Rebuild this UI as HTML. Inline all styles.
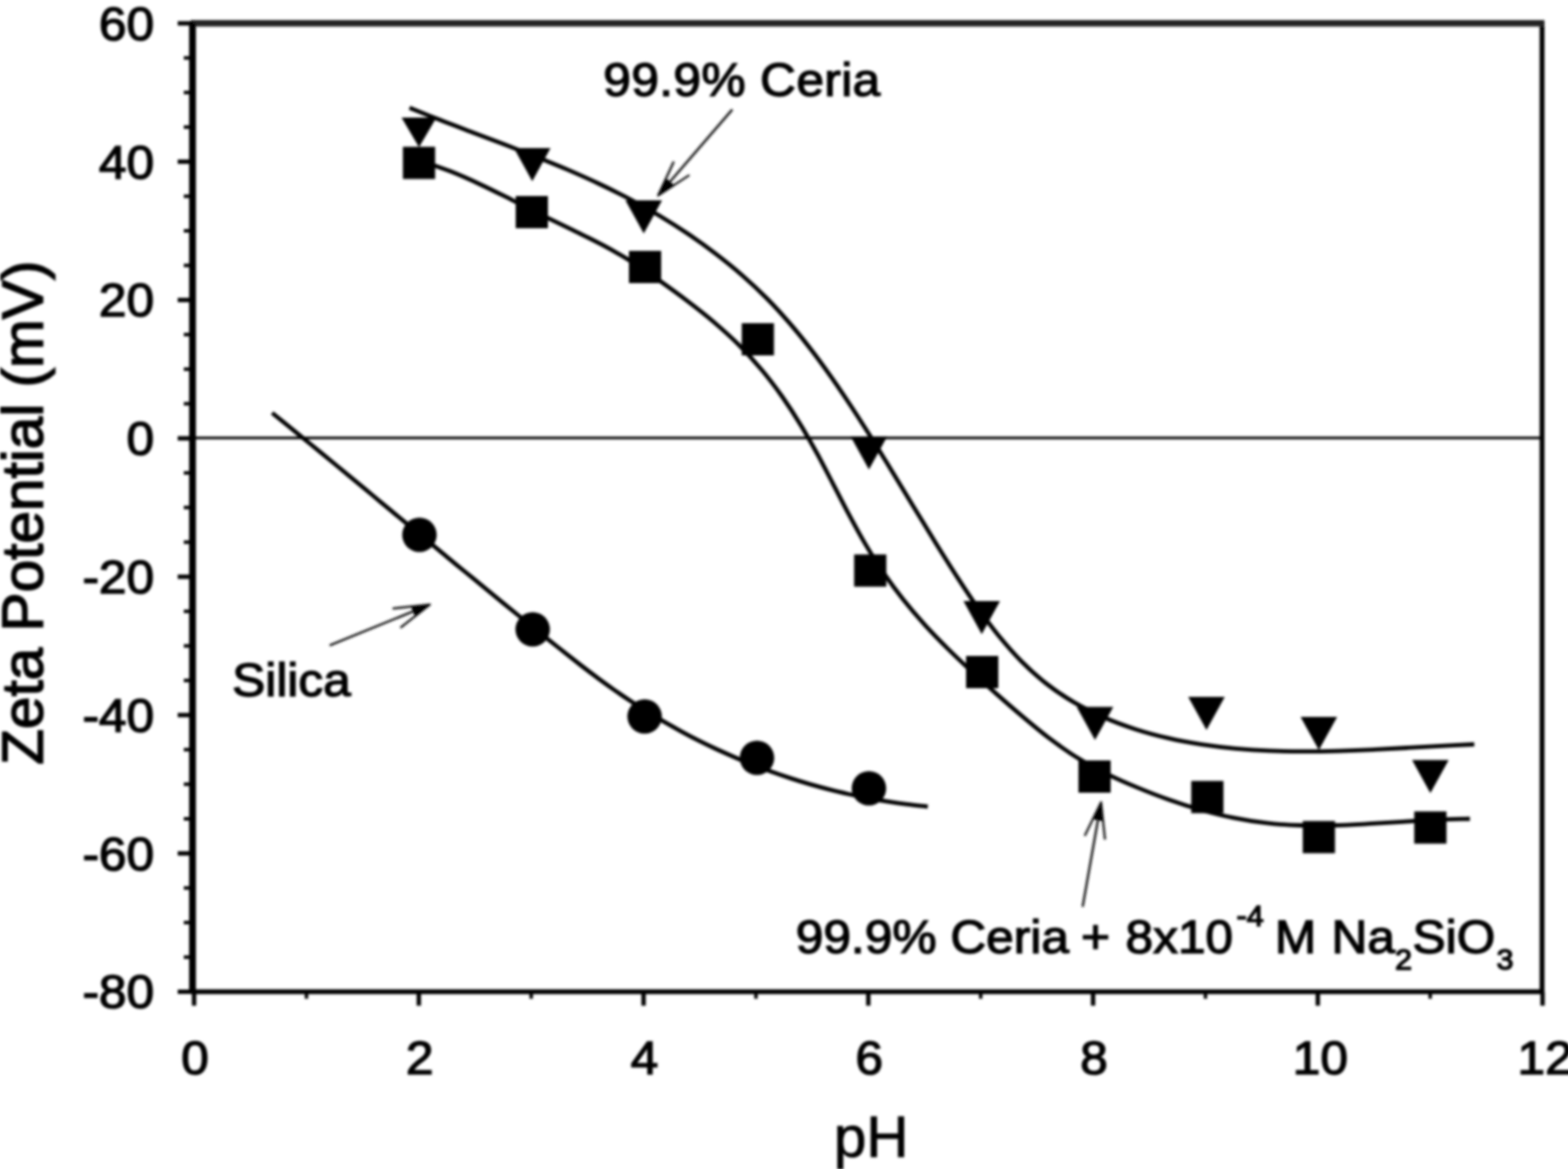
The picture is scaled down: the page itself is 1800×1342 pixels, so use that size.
<!DOCTYPE html>
<html lang="en"><head><meta charset="utf-8"><title>Zeta Potential vs pH</title>
<style>
html,body{margin:0;padding:0;background:#fff;}
body{width:1800px;height:1342px;overflow:hidden;}
svg{display:block;font-family:"Liberation Sans",Arial,Helvetica,sans-serif;}
text{fill:#000;stroke:#000;stroke-width:1.6px;}
</style></head><body>
<svg width="1800" height="1342" viewBox="0 0 1800 1342">
<defs><filter id="b" x="-5%" y="-5%" width="110%" height="110%"><feGaussianBlur stdDeviation="1.7"/></filter></defs>
<rect x="0" y="0" width="1800" height="1342" fill="#fff"/>
<g filter="url(#b)">
<g fill="none" stroke="#050505" stroke-linecap="butt">
<path d="M222.0 26.8 H1770.2 V1138.5 H222.0 Z" stroke-width="5.6" stroke-linejoin="miter"/>
<line x1="219.0" y1="26.8" x2="1772.8" y2="26.8" stroke-width="7.5" stroke="#222"/>
<line x1="220.8" y1="26.8" x2="220.8" y2="1140.5" stroke-width="7.4"/>
<line x1="222.0" y1="502.7" x2="1770.2" y2="502.7" stroke-width="3"/>
<line x1="204.0" y1="1138.5" x2="222.0" y2="1138.5" stroke-width="5"/>
<line x1="211.0" y1="1098.8" x2="222.0" y2="1098.8" stroke-width="4"/>
<line x1="211.0" y1="1059.1" x2="222.0" y2="1059.1" stroke-width="4"/>
<line x1="211.0" y1="1019.4" x2="222.0" y2="1019.4" stroke-width="4"/>
<line x1="204.0" y1="979.7" x2="222.0" y2="979.7" stroke-width="5"/>
<line x1="211.0" y1="940.0" x2="222.0" y2="940.0" stroke-width="4"/>
<line x1="211.0" y1="900.3" x2="222.0" y2="900.3" stroke-width="4"/>
<line x1="211.0" y1="860.6" x2="222.0" y2="860.6" stroke-width="4"/>
<line x1="204.0" y1="820.9" x2="222.0" y2="820.9" stroke-width="5"/>
<line x1="211.0" y1="781.2" x2="222.0" y2="781.2" stroke-width="4"/>
<line x1="211.0" y1="741.5" x2="222.0" y2="741.5" stroke-width="4"/>
<line x1="211.0" y1="701.8" x2="222.0" y2="701.8" stroke-width="4"/>
<line x1="204.0" y1="662.1" x2="222.0" y2="662.1" stroke-width="5"/>
<line x1="211.0" y1="622.4" x2="222.0" y2="622.4" stroke-width="4"/>
<line x1="211.0" y1="582.6" x2="222.0" y2="582.6" stroke-width="4"/>
<line x1="211.0" y1="542.9" x2="222.0" y2="542.9" stroke-width="4"/>
<line x1="204.0" y1="503.2" x2="222.0" y2="503.2" stroke-width="5"/>
<line x1="211.0" y1="463.5" x2="222.0" y2="463.5" stroke-width="4"/>
<line x1="211.0" y1="423.8" x2="222.0" y2="423.8" stroke-width="4"/>
<line x1="211.0" y1="384.1" x2="222.0" y2="384.1" stroke-width="4"/>
<line x1="204.0" y1="344.4" x2="222.0" y2="344.4" stroke-width="5"/>
<line x1="211.0" y1="304.7" x2="222.0" y2="304.7" stroke-width="4"/>
<line x1="211.0" y1="265.0" x2="222.0" y2="265.0" stroke-width="4"/>
<line x1="211.0" y1="225.3" x2="222.0" y2="225.3" stroke-width="4"/>
<line x1="204.0" y1="185.6" x2="222.0" y2="185.6" stroke-width="5"/>
<line x1="211.0" y1="145.9" x2="222.0" y2="145.9" stroke-width="4"/>
<line x1="211.0" y1="106.2" x2="222.0" y2="106.2" stroke-width="4"/>
<line x1="211.0" y1="66.5" x2="222.0" y2="66.5" stroke-width="4"/>
<line x1="204.0" y1="26.8" x2="222.0" y2="26.8" stroke-width="5"/>
<line x1="222.8" y1="1138.5" x2="222.8" y2="1154.5" stroke-width="5"/>
<line x1="351.8" y1="1138.5" x2="351.8" y2="1146.5" stroke-width="4"/>
<line x1="480.8" y1="1138.5" x2="480.8" y2="1154.5" stroke-width="5"/>
<line x1="609.8" y1="1138.5" x2="609.8" y2="1146.5" stroke-width="4"/>
<line x1="738.8" y1="1138.5" x2="738.8" y2="1154.5" stroke-width="5"/>
<line x1="867.8" y1="1138.5" x2="867.8" y2="1146.5" stroke-width="4"/>
<line x1="996.8" y1="1138.5" x2="996.8" y2="1154.5" stroke-width="5"/>
<line x1="1125.8" y1="1138.5" x2="1125.8" y2="1146.5" stroke-width="4"/>
<line x1="1254.8" y1="1138.5" x2="1254.8" y2="1154.5" stroke-width="5"/>
<line x1="1383.8" y1="1138.5" x2="1383.8" y2="1146.5" stroke-width="4"/>
<line x1="1512.8" y1="1138.5" x2="1512.8" y2="1154.5" stroke-width="5"/>
<line x1="1641.8" y1="1138.5" x2="1641.8" y2="1146.5" stroke-width="4"/>
<line x1="1770.8" y1="1138.5" x2="1770.8" y2="1154.5" stroke-width="5"/>
</g>
<g font-size="57" text-anchor="end" style="stroke-width:2px">
<text x="177" y="1157.5" transform="matrix(1 0 0 0.955 0 52.09)">-80</text>
<text x="177" y="998.7" transform="matrix(1 0 0 0.955 0 44.94)">-60</text>
<text x="177" y="839.9" transform="matrix(1 0 0 0.955 0 37.79)">-40</text>
<text x="177" y="681.1" transform="matrix(1 0 0 0.955 0 30.65)">-20</text>
<text x="177" y="522.2" transform="matrix(1 0 0 0.955 0 23.50)">0</text>
<text x="177" y="363.4" transform="matrix(1 0 0 0.955 0 16.35)">20</text>
<text x="177" y="204.6" transform="matrix(1 0 0 0.955 0 9.21)">40</text>
<text x="177" y="45.8" transform="matrix(1 0 0 0.955 0 2.06)">60</text>
</g>
<g font-size="57" text-anchor="middle">
<text x="223.8" y="1233.5" transform="matrix(1 0 0 0.955 0 55.51)">0</text>
<text x="481.8" y="1233.5" transform="matrix(1 0 0 0.955 0 55.51)">2</text>
<text x="739.8" y="1233.5" transform="matrix(1 0 0 0.955 0 55.51)">4</text>
<text x="997.8" y="1233.5" transform="matrix(1 0 0 0.955 0 55.51)">6</text>
<text x="1255.8" y="1233.5" transform="matrix(1 0 0 0.955 0 55.51)">8</text>
<text x="1515.8" y="1233.5" transform="matrix(1 0 0 0.955 0 55.51)">10</text>
<text x="1773.8" y="1233.5" transform="matrix(1 0 0 0.955 0 55.51)">12</text>
</g>
<text x="1000" y="1327.5" font-size="67" text-anchor="middle" style="stroke-width:1px">pH</text>
<text transform="translate(49 878) rotate(-90)" font-size="67.2" text-anchor="start" style="stroke-width:1.7px">Zeta Potential (mV)</text>
<g fill="none" stroke="#000" stroke-width="4.8" stroke-linecap="butt" stroke-linejoin="round">
<path d="M470.1 123.7 C476.1 126.1 493.9 133.3 506.0 138.1 C518.0 142.8 530.2 147.3 542.4 151.9 C554.5 156.6 566.8 161.1 579.0 165.8 C591.1 170.5 603.4 175.2 615.5 180.0 C627.7 184.9 639.8 189.8 651.9 194.9 C663.9 200.1 675.9 205.4 687.7 211.0 C699.6 216.6 711.3 222.3 722.9 228.5 C734.5 234.6 746.0 241.0 757.2 247.7 C768.4 254.4 779.5 261.5 790.3 268.8 C801.1 276.1 811.7 283.7 822.0 291.6 C832.3 299.5 842.4 307.6 852.2 316.2 C861.9 324.7 871.4 333.5 880.5 342.7 C889.6 351.9 898.3 361.5 906.8 371.4 C915.3 381.2 923.5 391.4 931.4 401.7 C939.4 412.0 947.0 422.6 954.6 433.3 C962.1 444.0 969.4 454.8 976.6 465.7 C983.7 476.6 990.7 487.5 997.7 498.5 C1004.6 509.5 1011.4 520.5 1018.2 531.6 C1025.0 542.6 1031.7 553.7 1038.4 564.8 C1045.2 575.9 1051.9 587.0 1058.7 598.1 C1065.5 609.2 1072.3 620.4 1079.2 631.5 C1086.2 642.6 1093.2 653.8 1100.4 664.9 C1107.6 675.9 1114.9 687.1 1122.5 697.9 C1130.1 708.6 1137.9 719.4 1146.2 729.5 C1154.5 739.6 1163.0 749.6 1172.1 758.7 C1181.2 767.9 1190.7 776.6 1200.8 784.5 C1210.9 792.4 1221.6 799.6 1232.7 806.1 C1243.7 812.6 1255.4 818.3 1267.2 823.5 C1279.0 828.7 1291.3 833.2 1303.7 837.2 C1316.0 841.2 1328.6 844.5 1341.3 847.4 C1353.9 850.4 1366.7 852.7 1379.6 854.7 C1392.5 856.7 1405.4 858.2 1418.5 859.4 C1431.5 860.6 1444.6 861.4 1457.7 861.9 C1470.8 862.5 1484.0 862.7 1497.1 862.7 C1510.3 862.7 1523.5 862.5 1536.7 862.1 C1549.8 861.7 1563.0 861.2 1576.1 860.6 C1589.2 860.0 1602.3 859.2 1615.3 858.5 C1628.3 857.8 1641.3 857.0 1654.1 856.3 C1666.9 855.7 1686.0 854.8 1692.4 854.5"/>
<path d="M481.0 184.0 C487.0 186.1 504.9 191.9 516.8 196.6 C528.8 201.3 540.7 206.7 552.5 212.2 C564.4 217.7 576.2 223.8 587.9 229.6 C599.7 235.4 611.4 241.5 623.0 247.3 C634.6 253.0 646.2 258.5 657.6 264.1 C669.0 269.8 680.4 275.1 691.6 281.2 C702.9 287.2 714.0 293.5 725.0 300.4 C736.0 307.3 746.9 315.0 757.6 322.5 C768.3 330.1 778.9 337.7 789.2 345.6 C799.6 353.5 809.7 361.3 819.5 369.7 C829.3 378.1 838.9 386.6 848.0 395.7 C857.1 404.8 865.8 414.4 874.1 424.3 C882.4 434.1 890.2 444.5 897.7 455.0 C905.1 465.5 912.2 476.4 918.9 487.4 C925.7 498.4 932.0 509.7 938.2 521.0 C944.4 532.3 950.2 543.8 956.2 555.3 C962.2 566.7 967.9 578.2 974.0 589.6 C980.1 601.0 986.2 612.4 992.8 623.6 C999.4 634.7 1006.3 645.8 1013.6 656.6 C1021.0 667.3 1028.7 677.9 1036.7 688.1 C1044.8 698.3 1053.2 708.1 1061.9 717.7 C1070.5 727.2 1079.6 736.4 1088.7 745.4 C1097.8 754.4 1107.1 763.1 1116.4 771.8 C1125.8 780.4 1135.2 788.9 1144.8 797.4 C1154.5 806.0 1164.2 814.5 1174.3 822.9 C1184.3 831.3 1194.6 840.0 1205.1 847.9 C1215.7 855.8 1226.4 863.5 1237.4 870.3 C1248.4 877.1 1259.6 883.0 1271.0 888.6 C1282.4 894.3 1294.0 899.3 1305.8 904.1 C1317.6 909.0 1329.6 913.7 1341.8 917.9 C1353.9 922.2 1366.2 926.2 1378.7 929.7 C1391.1 933.2 1403.7 936.4 1416.4 938.9 C1429.0 941.5 1441.8 943.5 1454.7 944.9 C1467.5 946.4 1480.5 947.1 1493.4 947.5 C1506.4 947.9 1519.4 947.8 1532.4 947.5 C1545.4 947.2 1558.5 946.4 1571.5 945.7 C1584.5 945.0 1597.5 944.1 1610.5 943.3 C1623.4 942.5 1636.4 941.6 1649.2 941.1 C1662.0 940.5 1681.1 940.2 1687.4 940.0"/>
<path d="M312.4 474.0 C315.4 476.4 324.5 483.8 330.5 488.6 C336.5 493.5 342.5 498.4 348.5 503.3 C354.4 508.2 360.4 513.1 366.3 517.9 C372.3 522.8 378.2 527.7 384.1 532.5 C390.0 537.4 395.9 542.3 401.8 547.1 C407.7 552.0 413.5 556.8 419.4 561.7 C425.3 566.6 431.1 571.4 437.0 576.3 C442.9 581.1 448.7 585.9 454.5 590.8 C460.4 595.6 466.2 600.5 472.1 605.3 C477.9 610.1 483.7 615.0 489.6 619.8 C495.4 624.6 501.2 629.5 507.1 634.3 C512.9 639.1 518.8 643.9 524.6 648.8 C530.5 653.6 536.3 658.4 542.2 663.2 C548.0 668.0 553.9 672.8 559.8 677.6 C565.6 682.4 571.5 687.2 577.4 692.1 C583.3 696.9 589.2 701.7 595.1 706.5 C601.0 711.2 607.0 716.0 612.9 720.8 C618.9 725.6 624.9 730.4 630.9 735.3 C636.9 740.1 642.9 744.9 648.9 749.7 C655.0 754.5 661.1 759.3 667.2 764.0 C673.3 768.7 679.5 773.4 685.7 778.0 C691.9 782.6 698.2 787.1 704.5 791.6 C710.8 796.0 717.1 800.3 723.5 804.5 C729.9 808.8 736.4 812.9 742.8 816.9 C749.3 821.0 755.9 824.9 762.5 828.7 C769.1 832.5 775.7 836.2 782.4 839.8 C789.0 843.4 795.8 847.0 802.5 850.4 C809.3 853.8 816.1 857.1 823.0 860.3 C829.9 863.4 836.8 866.5 843.7 869.5 C850.7 872.5 857.7 875.4 864.7 878.1 C871.8 880.9 878.9 883.6 886.0 886.1 C893.1 888.7 900.3 891.1 907.5 893.4 C914.7 895.8 922.0 898.0 929.3 900.1 C936.6 902.2 943.9 904.2 951.3 906.1 C958.7 908.0 966.1 909.8 973.6 911.5 C981.1 913.1 988.6 914.7 996.1 916.1 C1003.7 917.6 1011.3 918.9 1018.9 920.1 C1026.5 921.3 1034.2 922.4 1041.9 923.4 C1049.6 924.4 1061.3 925.5 1065.1 926.0"/>
</g>
<g fill="#000" stroke="none">
<path d="M461.0 135.0 L501.0 135.0 L481.0 169.0 Z"/>
<path d="M590.0 170.0 L632.0 170.0 L611.0 208.0 Z"/>
<path d="M718.0 230.0 L760.0 230.0 L739.0 268.0 Z"/>
<path d="M976.5 501.0 L1018.5 501.0 L997.5 539.0 Z"/>
<path d="M1106.0 690.0 L1148.0 690.0 L1127.0 728.0 Z"/>
<path d="M1236.0 811.5 L1278.0 811.5 L1257.0 849.5 Z"/>
<path d="M1364.0 800.0 L1406.0 800.0 L1385.0 838.0 Z"/>
<path d="M1493.0 823.0 L1535.0 823.0 L1514.0 861.0 Z"/>
<path d="M1621.0 872.5 L1663.0 872.5 L1642.0 910.5 Z"/>
<rect x="462.5" y="168.5" width="37.0" height="37.0"/>
<rect x="592.0" y="225.0" width="37.0" height="37.0"/>
<rect x="722.0" y="288.0" width="37.0" height="37.0"/>
<rect x="851.5" y="371.0" width="37.0" height="37.0"/>
<rect x="980.5" y="636.5" width="37.0" height="37.0"/>
<rect x="1109.0" y="753.0" width="37.0" height="37.0"/>
<rect x="1238.0" y="873.0" width="37.0" height="37.0"/>
<rect x="1367.5" y="896.5" width="37.0" height="37.0"/>
<rect x="1495.5" y="942.5" width="37.0" height="37.0"/>
<rect x="1623.5" y="931.5" width="37.0" height="37.0"/>
<circle cx="481.5" cy="614.0" r="19.8"/>
<circle cx="611.5" cy="722.5" r="19.8"/>
<circle cx="740.0" cy="822.5" r="19.8"/>
<circle cx="869.0" cy="870.0" r="19.8"/>
<circle cx="997.5" cy="905.0" r="19.8"/>
</g>
<g fill="none" stroke="#1c1c1c" stroke-width="2.7" stroke-linecap="round" stroke-linejoin="round">
<line x1="840.0" y1="126.5" x2="760.7" y2="218.4"/>
<path d="M773.1 186.4 L755.5 224.5 L790.6 201.5" stroke-width="2.6"/>
<path d="M755.5 224.5 L764.7 204.7 L773.8 212.5 Z" fill="#000" stroke="none"/>
<line x1="379.5" y1="740.5" x2="486.1" y2="697.0"/>
<path d="M460.5 720.0 L493.5 694.0 L451.7 698.5" stroke-width="2.6"/>
<path d="M493.5 694.0 L476.3 707.5 L471.8 696.4 Z" fill="#000" stroke="none"/>
<line x1="1243.0" y1="1040.0" x2="1262.6" y2="928.9"/>
<path d="M1268.4 962.8 L1264.0 921.0 L1245.6 958.7" stroke-width="2.6"/>
<path d="M1264.0 921.0 L1266.3 942.7 L1254.4 940.6 Z" fill="#000" stroke="none"/>
</g>
<g font-size="57">
<text x="692.5" y="110" textLength="318" lengthAdjust="spacing" transform="matrix(1 0 0 0.955 0 4.95)">99.9% Ceria</text>
<text x="266.5" y="799" transform="matrix(1 0 0 0.955 0 35.96)">Silica</text>
<text y="1094" transform="matrix(1 0 0 0.955 0 49.23)"><tspan x="913.5">99.9% Ceria </tspan><tspan x="1241">+ </tspan><tspan x="1292">8x10</tspan><tspan x="1419.5" font-size="35" dy="-32">-4 </tspan><tspan x="1463.5" dy="32">M </tspan><tspan x="1528.5">Na</tspan><tspan x="1601.5" font-size="35" dy="20">2</tspan><tspan x="1621.5" dy="-20">SiO</tspan><tspan x="1718" font-size="35" dy="20">3</tspan></text>
</g>
</g>
</svg>
</body></html>
